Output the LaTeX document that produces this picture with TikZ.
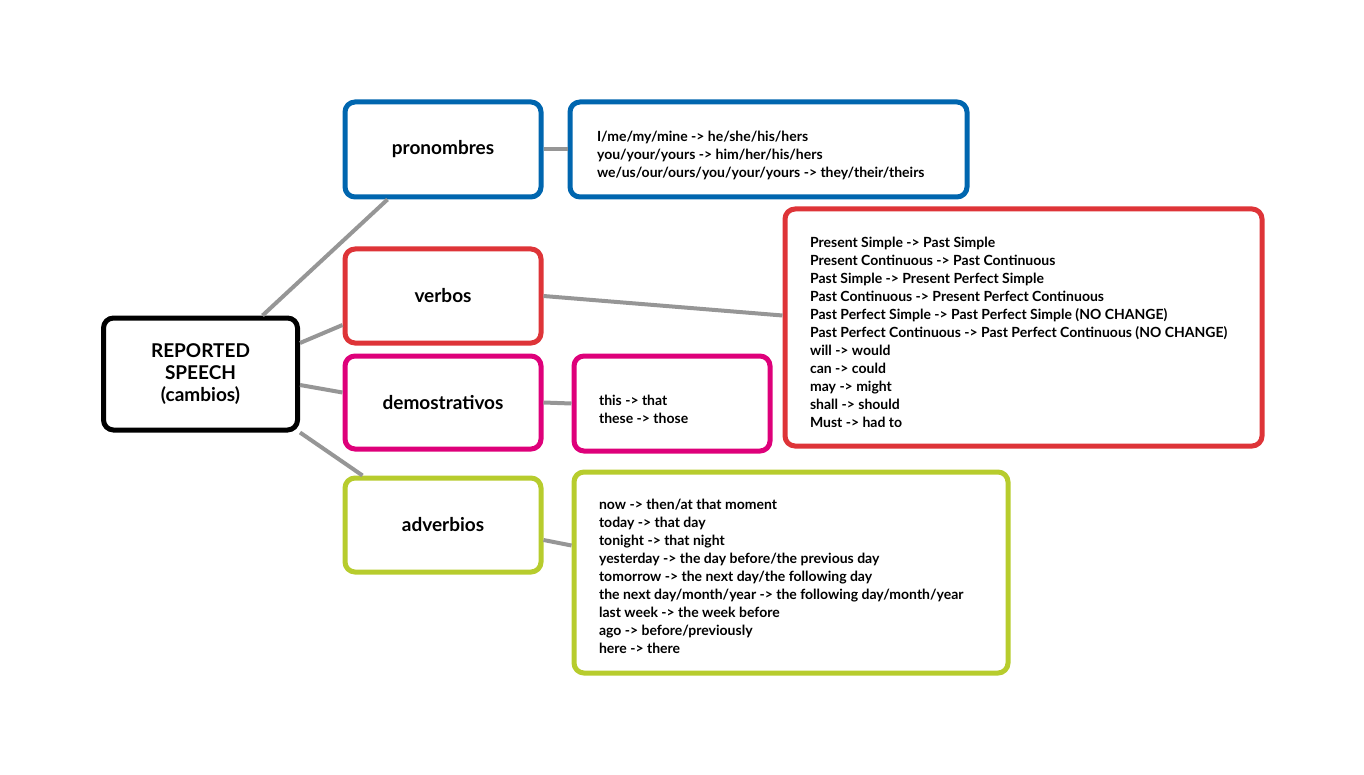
\documentclass[tikz,border=0pt]{standalone}
\usepackage{fontspec}
\setmainfont{Lato}
\usetikzlibrary{calc}
\definecolor{pblue}{RGB}{0,102,175}
\definecolor{vred}{RGB}{222,52,56}
\definecolor{dpink}{RGB}{222,0,122}
\definecolor{alime}{RGB}{183,204,45}
\definecolor{lgray}{RGB}{150,150,150}
\tikzset{
  box/.style={draw=#1,line width=2.5pt,rounded corners=5pt,fill=white,inner sep=0pt},
  head/.style={font=\bfseries\fontsize{9.5}{11}\selectfont,align=center},
  list/.style={font=\bfseries\fontsize{7}{9}\selectfont,align=left,anchor=north west},
  link/.style={lgray,line width=2pt}
}
\begin{document}
\begin{tikzpicture}[x=0.5pt,y=-0.5pt]
  \useasboundingbox (0,0) rectangle (1364,775);
  % main topic
  \node[box=black,head,minimum width=97pt,minimum height=56pt] (rs) at (200.5,374) {REPORTED\\SPEECH\\(cambios)};
  % categories
  \node[box=pblue,head,minimum width=98pt,minimum height=47.5pt] (pron) at (443,149.5) {pronombres};
  \node[box=vred,head,minimum width=98pt,minimum height=47pt] (verb) at (443,296) {verbos};
  \node[box=dpink,head,minimum width=98pt,minimum height=46.5pt] (dem) at (443,402.5) {demostrativos};
  \node[box=alime,head,minimum width=98pt,minimum height=47pt] (adv) at (443,525) {adverbios};
  % detail boxes
  \node[box=pblue,minimum width=198.5pt,minimum height=47.5pt] (pronl) at (768.5,149.5) {};
  \node[list] at (590,124) {I/me/my/mine -> he/she/his/hers\\you/your/yours -> him/her/his/hers\\we/us/our/ours/you/your/yours -> they/their/theirs};
  \node[box=vred,minimum width=238.5pt,minimum height=118.5pt] (verbl) at (1023.5,327.5) {};
  \node[list] at (803,230) {Present Simple -> Past Simple\\Present Continuous -> Past Continuous\\Past Simple -> Present Perfect Simple\\Past Continuous -> Present Perfect Continuous\\Past Perfect Simple -> Past Perfect Simple (NO CHANGE)\\Past Perfect Continuous -> Past Perfect Continuous (NO CHANGE)\\will -> would\\can -> could\\may -> might\\shall -> should\\Must -> had to};
  \node[box=dpink,minimum width=98pt,minimum height=47.5pt] (deml) at (672,403.5) {};
  \node[list] at (592,388) {this -> that\\these -> those};
  \node[box=alime,minimum width=217pt,minimum height=100.5pt] (advl) at (791,572.5) {};
  \node[list] at (592,492) {now -> then/at that moment\\today -> that day\\tonight -> that night\\yesterday -> the day before/the previous day\\tomorrow -> the next day/the following day\\the next day/month/year -> the following day/month/year\\last week -> the week before\\ago -> before/previously\\here -> there};
  % connectors
  \begin{scope}[on background layer/.style={}]
  \end{scope}
  \draw[link] ($(rs.north)+(62,0)$) -- ($(pron.south west)+(45,0)$);
  \draw[link] ($(rs.east)+(0,-31)$) -- ($(verb.west)+(0,29)$);
  \draw[link] ($(rs.east)+(0,11)$) -- ($(dem.west)+(0,-10)$);
  \draw[link] ($(rs.south east)+(0,0)$) -- ($(adv.north west)+(20,0)$);
  \draw[link] (pron.east) -- (pronl.west);
  \draw[link] (verb.east) -- ($(verbl.west)+(0,-12)$);
  \draw[link] (dem.east) -- (deml.west);
  \draw[link] ($(adv.east)+(0,15)$) -- ($(advl.west)+(0,-27)$);
\end{tikzpicture}
\end{document}
